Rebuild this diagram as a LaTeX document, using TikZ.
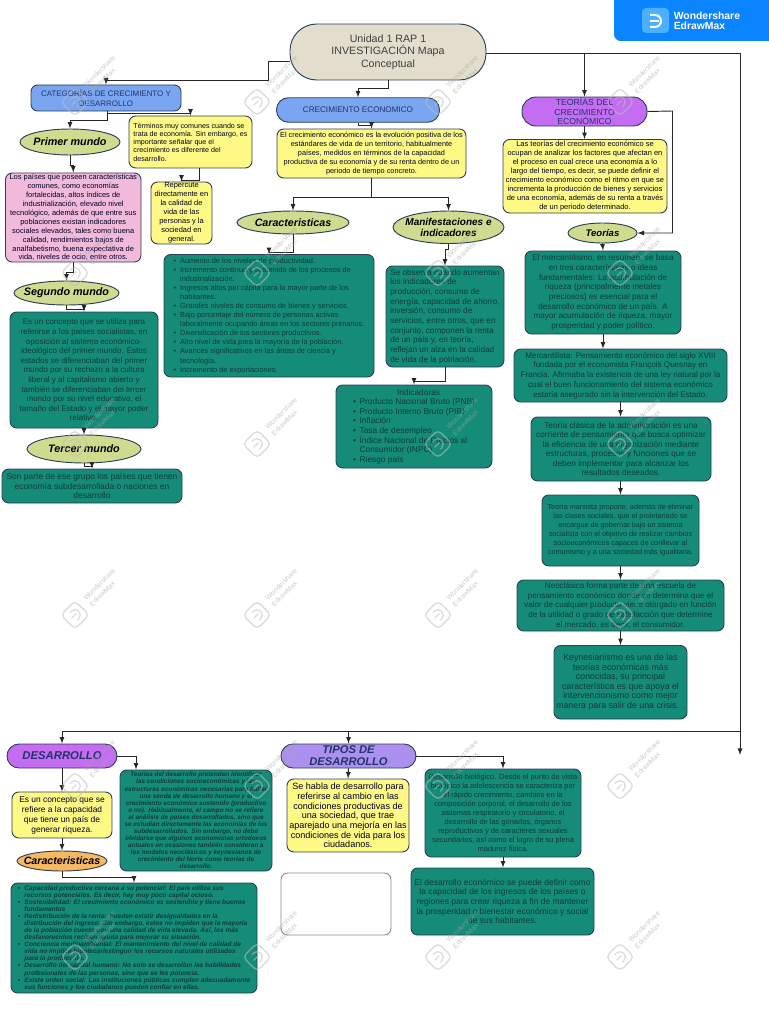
\documentclass[tikz,border=0pt]{standalone}
\usepackage{fontspec}
\setmainfont{Liberation Sans}
\usetikzlibrary{shapes.geometric}
\definecolor{tealfill}{HTML}{148C78}
\definecolor{tealtext}{HTML}{0F3C3C}
\definecolor{yellowfill}{HTML}{FDF984}
\definecolor{bluefill}{HTML}{7AA5F0}
\definecolor{pinkfill}{HTML}{F2BADA}
\definecolor{olivefill}{HTML}{CFDB8F}
\definecolor{purplefill}{HTML}{C46CF2}
\definecolor{lavenderfill}{HTML}{AC90F0}
\definecolor{orangefill}{HTML}{F7B862}
\definecolor{titlefill}{HTML}{E3DDCD}
\definecolor{edgeblue}{HTML}{2C3E58}
\definecolor{bannerblue}{HTML}{0A84FF}
\definecolor{navytext}{HTML}{24346A}
\tikzset{sized/.style 2 args={minimum width=#1*0.75pt,minimum height=#2*0.75pt}}
\tikzstyle{mapnode}=[draw=edgeblue,line width=0.7pt,inner sep=0pt,align=center,rounded corners=5pt]
\tikzstyle{tealbox}=[mapnode,fill=tealfill,text=tealtext]
\tikzstyle{yellowbox}=[mapnode,fill=yellowfill,text=black!85!blue]
\tikzstyle{pinkbox}=[mapnode,fill=pinkfill,text=black!85!blue]
\tikzstyle{mapoval}=[ellipse,draw=edgeblue,line width=0.7pt,inner xsep=-9pt,inner ysep=-5pt,align=center,fill=olivefill,font=\fs{8.1}{8.4}\bfseries\itshape]
\tikzstyle{link}=[black!85,line width=0.7pt,-latex]
\tikzstyle{wmstroke}=[black!25,line width=1pt,opacity=0.55]
\newcommand{\fs}[2]{\fontsize{#1}{#2}\selectfont}
\newcommand{\bul}{\makebox[5pt][l]{\textbullet}}
\newcommand{\ind}{\hspace*{5pt}}
\newcommand{\drawwatermark}[3]{
	\begin{scope}[shift={(#1,#2)},x=0.75pt,y=0.75pt,rotate=45]
	\node[wmstroke,draw,transform shape,rounded corners=3.5pt,minimum size=15pt,inner sep=0pt] (wmlogo#3) at (0,0) {};
	\draw[wmstroke] (-1.5pt,4pt) -- (0pt,4pt) arc (90:-90:4pt) -- (-1.5pt,-4pt);
	\draw[wmstroke] (-3.5pt,0pt) -- (1.5pt,0pt);
	\node[black!35,opacity=0.6,transform shape,align=left,font=\fs{5.2}{6.6}] (wmtext#3) at (29pt,0pt) {Wondershare\\EdrawMax};
	\end{scope}
}
\begin{document}
\begin{tikzpicture}[x=0.75pt,y=-0.75pt]
	\useasboundingbox (0,0) rectangle (768,1024);
	% banner
	\fill[bannerblue,rounded corners=5pt] (614,-10) -- (614,41) -- (780,41) -- (780,-10) -- cycle;
	\fill[blue!45!cyan!70,rounded corners=3pt] (642,8) rectangle (669,33);
	\node[font=\fs{7.8}{7.8}\bfseries,text=white,align=left,inner sep=0pt,anchor=west] (bannertext) at (673.5,21) {Wondershare\\EdrawMax};
	\draw[white,line width=1.5pt] (650,15) -- (655,15) arc[start angle=90,end angle=-90,radius=4.5pt] -- (650,27);
	\draw[white,line width=1.5pt] (650,21) -- (659,21);

	% top nodes
	\node[mapnode,fill=titlefill,text=black!75,rounded corners=20pt,sized={196}{56},font=\fs{8}{9.2}] (title) at (388,52) {Unidad 1 RAP 1\\INVESTIGACIÓN Mapa\\Conceptual};
	\node[mapnode,fill=bluefill,text=navytext,sized={150}{26},font=\fs{5.95}{7}] (categorias) at (106,98) {CATEGORÍAS DE CRECIMIENTO Y\\DESARROLLO};
	\node[mapnode,fill=bluefill,text=navytext,rounded corners=9pt,sized={163}{24.5},font=\fs{6.1}{7}] (crecimiento) at (358,110) {CRECIMIENTO ECONOMICO};
	\node[mapnode,fill=purplefill,text=navytext,rounded corners=10.5pt,sized={125}{29},font=\fs{6.5}{7.3}] (teorias) at (584.5,111.5) {TEORÍAS DEL\\CRECIMIENTO\\ECONÓMICO};

	% left column
	\node[mapoval,sized={100}{26}] (primer) at (70,142) {Primer mundo};
	\node[pinkbox,sized={135.5}{89},font=\fs{5.6}{6.7}] (primertext) at (73.25,217.5) {Los países que poseen características\\comunes, como economías\\fortalecidas, altos índices de\\industrialización, elevado nivel\\tecnológico, además de que entre sus\\poblaciones existan indicadores\\sociales elevados, tales como buena\\calidad, rendimientos bajos de\\analfabetismo, buena expectativa de\\vida, niveles de ocio, entre otros.};
	\node[yellowbox,sized={123}{52},font=\fs{5.35}{6.2},align=left] (terminos) at (190.5,142) {Términos muy comunes cuando se\\trata de economía. Sin embargo, es\\importante señalar que el\\crecimiento es diferente del\\desarrollo.};
	\node[yellowbox,sized={61}{62},font=\fs{5.6}{6.7}] (repercute) at (181.5,213) {Repercute\\directamente en\\la calidad de\\vida de las\\personas y la\\sociedad en\\general.};
	\node[mapoval,sized={105}{24}] (segundo) at (66.5,293) {Segundo mundo};
	\node[tealbox,sized={148}{116},font=\fs{6}{7.2}] (segundotext) at (84,370) {Es un concepto que se utiliza para\\referirse a los países socialistas, en\\oposición al sistema económico-\\ideológico del primer mundo. Estos\\estados se diferenciaban del primer\\mundo por su rechazo a la cultura\\liberal y al capitalismo abierto y\\también se diferenciaban del tercer\\mundo por su nivel educativo, el\\tamaño del Estado y el mayor poder\\relativo.};
	\node[mapoval,sized={114}{28}] (tercer) at (84,449) {Tercer mundo};
	\node[tealbox,sized={180}{34},font=\fs{6.35}{7.1}] (tercertext) at (92,486) {Son parte de ese grupo los países que tienen\\economía subdesarrollada o naciones en\\desarrollo};

	% centre column
	\node[yellowbox,sized={189}{49},font=\fs{5.5}{6.7}] (crecimientotext) at (371.5,153.5) {El crecimiento económico es la evolución positiva de los\\estándares de vida de un territorio, habitualmente\\países, medidos en términos de la capacidad\\productiva de su economía y de su renta dentro de un\\periodo de tiempo concreto.};
	\node[mapoval,sized={112}{23},font=\fs{8}{8.4}\bfseries\itshape] (caracteristicas) at (293,222.5) {Caracteristicas};
	\node[mapoval,sized={111}{32.5},font=\fs{7.5}{8.4}\bfseries\itshape] (manifestaciones) at (448.5,227.25) {Manifestaciones e\\indicadores};
	\node[tealbox,sized={210}{122.5},font=\fs{5.55}{6.8},align=left] (caracteristicaslist) at (269,315.75) {\bul Aumento de los niveles de productividad.\\\bul Incremento continuo y sostenido de los procesos de\\\ind industrialización.\\\bul Ingresos altos per cápita para la mayor parte de los\\\ind habitantes.\\\bul Grandes niveles de consumo de bienes y servicios.\\\bul Bajo porcentaje del número de personas activas\\\ind laboralmente ocupando áreas en los sectores primarios.\\\bul Diversificación de los sectores productivos.\\\bul Alto nivel de vida para la mayoría de la población.\\\bul Avances significativos en las áreas de ciencia y\\\ind tecnología.\\\bul Incremento de exportaciones.};
	\node[tealbox,sized={118}{101},font=\fs{6.15}{7.25},align=left] (manifestacionestext) at (445,316.5) {Se observa cuando aumentan\\los indicadores de\\producción, consumo de\\energía, capacidad de ahorro,\\inversión, consumo de\\servicios, entre otros, que en\\conjunto, componen la renta\\de un país y, en teoría,\\reflejan un alza en la calidad\\de vida de la población.};
	\node[tealbox,sized={156}{83},font=\fs{6.25}{7.2},align=left] (indicadoras) at (414,426.5) {\hspace*{33pt}Indicadoras\\\bul Producto Nacional Bruto (PNB)\hspace*{9pt}\\\bul Producto Interno Bruto (PIB)\\\bul Inflación\\\bul Tasa de desempleo\\\bul Índice Nacional de Precios al\\\ind Consumidor (INPC)\\\bul Riesgo país};

	% right column
	\node[yellowbox,sized={164}{73.5},font=\fs{5.6}{6.75}] (teoriastext) at (585,176.25) {Las teorías del crecimiento económico se\\ocupan de analizar los factores que afectan en\\el proceso en cual crece una economía a lo\\largo del tiempo, es decir, se puede definir el\\crecimiento económico como el ritmo en que se\\incrementa la producción de bienes y servicios\\de una economía, además de su renta a través\\de un periodo determinado.};
	\node[mapoval,sized={69}{20},font=\fs{7.2}{9}\bfseries\itshape] (teoriasoval) at (602.5,233) {Teorías};
	\node[tealbox,sized={156}{83},font=\fs{6.15}{7.3}] (mercantilismo) at (603,292.5) {El mercantilismo, en resumen, se basa\\en tres características o ideas\\fundamentales: La acumulación de\\riqueza (principalmente metales\\preciosos) es esencial para el\\desarrollo económico de un país. A\\mayor acumulación de riqueza, mayor\\prosperidad y poder político.};
	\node[tealbox,sized={213}{53},font=\fs{6.05}{7.3}] (mercantilista) at (620.5,375.5) {Mercantilista: Pensamiento económico del siglo XVIII\\fundada por el economista François Quesnay en\\Francia. Afirmaba la existencia de una ley natural por la\\cual el buen funcionamiento del sistema económico\\estaría asegurado sin la intervención del Estado.};
	\node[tealbox,sized={180}{64},font=\fs{6.2}{7.1}] (clasica) at (621,449) {Teoría clásica de la administración es una\\corriente de pensamiento que busca optimizar\\la eficiencia de una organización mediante\\estructuras, procesos y funciones que se\\deben implementar para alcanzar los\\resultados deseados.};
	\node[tealbox,sized={157}{71},font=\fs{5.45}{6.75}] (marxista) at (620.5,530.5) {Teoría marxista propone, además de eliminar\\las clases sociales, que el proletariado se\\encargue de gobernar bajo un sistema\\socialista con el objetivo de realizar cambios\\socioeconómicos capaces de conllevar al\\comunismo y a una sociedad más igualitaria.};
	\node[tealbox,sized={207}{51},font=\fs{6.05}{7.3}] (neoclasica) at (620.5,605.5) {Neoclásica forma parte de una escuela de\\pensamiento económico donde se determina que el\\valor de cualquier producto viene otorgado en función\\de la utilidad o grado de satisfacción que determine\\el mercado, es decir, el consumidor.};
	\node[tealbox,sized={133}{73.5},font=\fs{6.6}{7.15}] (keynes) at (620.5,682.25) {Keynesianismo es una de las\\teorías económicas más\\conocidas, su principal\\característica es que apoya el\\intervencionismo como mejor\\manera para salir de una crisis. .};

	% bottom row
	\node[mapnode,fill=purplefill,text=navytext,rounded corners=9pt,sized={110}{24},font=\fs{8.5}{11}\bfseries\itshape] (desarrollo) at (62,756) {DESARROLLO};
	\node[tealbox,sized={152}{101},font=\fs{4.8}{5.3}\bfseries\itshape] (desarrollotext) at (196,820.5) {Teorías del desarrollo pretenden identificar\\las condiciones socioeconómicas y las\\estructuras económicas necesarias para hallar\\una senda de desarrollo humano y el\\crecimiento económico sostenido (productivo\\o no). Habitualmente, el campo no se refiere\\al análisis de países desarrollados, sino que\\se estudian directamente las economías de los\\subdesarrollados. Sin embargo, no debe\\olvidarse que algunos economistas ortodoxos\\actuales en ocasiones también consideran a\\los modelos neoclásicos y keynesianos de\\crecimiento del Norte como teorías de\\desarrollo.};
	\node[yellowbox,sized={100}{46},font=\fs{6.3}{7.5}] (conceptotext) at (62,815) {Es un concepto que se\\refiere a la capacidad\\que tiene un país de\\generar riqueza.};
	\node[mapoval,fill=orangefill,sized={90}{20},font=\fs{8}{10}\bfseries\itshape] (caracteristicasdos) at (62,861) {Caracteristicas};
	\node[tealbox,sized={246}{110},font=\fs{4.9}{5.3}\bfseries\itshape,align=left] (caracteristicasdoslist) at (134,938) {\bul Capacidad productiva cercana a su potencial: El país utiliza sus\\\ind recursos potenciales. Es decir, hay muy poco capital ocioso.\\\bul Sostenibilidad: El crecimiento económico es sostenible y tiene buenos\\\ind fundamentos\\\bul Redistribución de la renta: Pueden existir desigualdades en la\\\ind distribución del ingreso. Sin embargo, estos no impiden que la mayoría\\\ind de la población cuente con una calidad de vida elevada. Así, los más\\\ind desfavorecidos reciben ayuda para mejorar su situación.\\\bul Conciencia medioambiental: El mantenimiento del nivel de calidad de\\\ind vida no implica hipotecar/extinguir los recursos naturales utilizados\\\ind para la producción.\\\bul Desarrollo del capital humano: No solo se desarrollan las habilidades\\\ind profesionales de las personas, sino que se les potencia.\\\bul Existe orden social: Las instituciones públicas cumplen adecuadamente\\\ind sus funciones y los ciudadanos pueden confiar en ellas.};
	\node[mapnode,fill=lavenderfill,text=navytext,rounded corners=9pt,sized={135}{24},font=\fs{8.4}{9.2}\bfseries\itshape] (tipos) at (348.5,756) {TIPOS DE\\DESARROLLO};
	\node[yellowbox,sized={122}{73},font=\fs{6.8}{7.3}] (tipostext) at (348,815.5) {Se habla de desarrollo para\\referirse al cambio en las\\condiciones productivas de\\una sociedad, que trae\\aparejado una mejoría en las\\condiciones de vida para los\\ciudadanos.};
	\node[mapnode,fill=white,draw=edgeblue!60,sized={110}{62}] (vacio) at (336,904) {};
	\node[tealbox,sized={156}{88},font=\fs{5.6}{6.8}] (biologico) at (503,813) {Desarrollo biológico. Desde el punto de vista\\biológico la adolescencia se caracteriza por\\el rápido crecimiento, cambios en la\\composición corporal, el desarrollo de los\\sistemas respiratorio y circulatorio, el\\desarrollo de las gónadas, órganos\\reproductivos y de caracteres sexuales\\secundarios, así como el logro de su plena\\madurez física.};
	\node[tealbox,sized={183}{67},font=\fs{6.35}{7.2}] (economico) at (502.5,901.5) {El desarrollo económico se puede definir como\\la capacidad de los ingresos de los países o\\regiones para crear riqueza a fin de mantener\\la prosperidad o bienestar económico y social\\de sus habitantes.};

	% connectors
	\coordinate (rightdrop) at (740,755);
	\coordinate (cornertop) at (740,53);
	\coordinate (cornerbottom) at (740,731);
	\draw[link] (title.west |- 0,61) -- (268,61) -- (268,80) -| (categorias.north);
	\draw[link] (title.south) -- ++(0,8) -| (crecimiento.north);
	\draw[link] (title.east |- cornertop) -- (cornertop) -- (rightdrop);
	\draw[link] (teorias.north |- cornertop) -- (teorias.north);
	\draw[link] (cornerbottom) -| (desarrollo.north);
	\draw[link] (tipos.north |- cornerbottom) -- (tipos.north);
	\draw[link] (categorias.south) ++(1,0) -- ++(0,9) -| (primer.north);
	\draw[link] (categorias.south) ++(1,0) -- ++(0,2) -| (terminos.north);
	\draw[link] (primer.south) -- ++(0,10) -| (primertext.north);
	\draw[link] (primertext.south) -- ++(0,10) -| (segundo.north);
	\draw[link] (segundo.south) -- ++(0,3.5) -| (segundotext.north);
	\draw[link] (segundotext.south) -- (tercer.north);
	\draw[link] (tercer.south) -- ++(0,3) -| (tercertext.north);
	\draw[link] (terminos.south) ++(8.5,0) -- ++(0,12) -| (repercute.north);
	\draw[link] (crecimiento.south) -- ++(0,3) -| (crecimientotext.north);
	\draw[link] (crecimientotext.south) -- ++(0,19) -| (caracteristicas.north);
	\draw[link] (crecimientotext.south) -- ++(0,19) -| (manifestaciones.north);
	\draw[link] (caracteristicas.south) -- ++(0,18) -| (caracteristicaslist.north);
	\draw[link] (manifestaciones.south) -- ++(0,5) -| (manifestacionestext.north);
	\draw[link] (manifestacionestext.south) -- ++(0,14) -| (indicadoras.north);
	\draw[link] (teorias.south) -- (teoriastext.north -| teorias.south);
	\draw[link] (teorias.east) -- (672.5,111) |- (teoriasoval.east);
	\draw[link] (teoriasoval.south) -- (mercantilismo.north);
	\draw[link] (mercantilismo.south) -- (mercantilista.north -| mercantilismo.south);
	\draw[link] (mercantilista.south) -- (clasica.north -| mercantilista.south);
	\draw[link] (clasica.south -| marxista.north) -- (marxista.north);
	\draw[link] (marxista.south) -- (neoclasica.north);
	\draw[link] (neoclasica.south) -- (keynes.north);
	\draw[link] (desarrollo.south) -- (conceptotext.north);
	\draw[link] (desarrollo.east) -- (136,756) -- (desarrollotext.north -| 136,0);
	\draw[link] (conceptotext.south) -- (caracteristicasdos.north);
	\draw[link] (caracteristicasdos.south) -- ++(0,6) -| (caracteristicasdoslist.north);
	\draw[link] (tipos.south) -- (tipostext.north);
	\draw[link] (tipos.east) -| (biologico.north);
	\draw[link] (biologico.south) -- (economico.north -| biologico.south);

	% watermarks
	\foreach \row [count=\r] in {102,273,444,615,786,957} {
		\foreach \col [count=\c] in {75,257,438,620} {
			\drawwatermark{\col}{\row}{\r\c}
		}
	}
\end{tikzpicture}
\end{document}
